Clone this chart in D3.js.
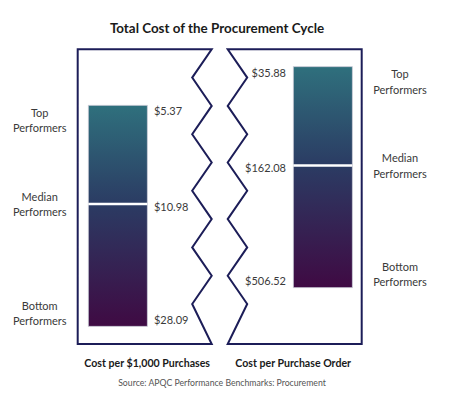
<!DOCTYPE html>
<html>
<head>
<meta charset="utf-8">
<script src="https://cdn.jsdelivr.net/npm/d3@7"></script>
<style>
  body { margin: 0; background: #fff; }
  text { font-family: Lato, "Open Sans", sans-serif; }
</style>
</head>
<body>
<div id="chart"></div>
<script>
// data
const levels = ["Top", "Median", "Bottom"];
const panels = ["Cost per $1,000 Purchases", "Cost per Purchase Order"];
const costPerThousand = [5.37, 10.98, 28.09];
const costPerOrder = [35.88, 162.08, 506.52];
const title = "Total Cost of the Procurement Cycle";
const source = "Source: APQC Performance Benchmarks: Procurement";

const width = 450, height = 401;
const boxTop = 49.3, boxBottom = 344;
const navy = "#1c1d58";

const svg = d3.select("#chart")
  .append("svg")
    .attr("width", width)
    .attr("height", height);

// gradient for the bars
const grad = svg.append("defs").append("linearGradient")
    .attr("id", "barGrad")
    .attr("x1", 0).attr("y1", 0).attr("x2", 0).attr("y2", 1);
grad.append("stop").attr("offset", "0%").attr("stop-color", "#2f707d");
grad.append("stop").attr("offset", "45%").attr("stop-color", "#2b3b63");
grad.append("stop").attr("offset", "100%").attr("stop-color", "#3f0a43");

// title
svg.append("text")
    .attr("x", 217)
    .attr("y", 33)
    .attr("text-anchor", "middle")
    .style("font-size", "13.4px")
    .style("font-weight", "bold")
    .style("fill", "#1a1a1a")
    .text(title);

// panels (two broken boxes)
const x = d3.scaleBand()
  .domain(panels)
  .range([77.7, 361.7])
  .paddingInner(0.1067);

const zigStep = 28.3, zigDepth = 19.5;

panels.forEach((p, pi) => {
  const values = pi === 0 ? costPerThousand : costPerOrder;
  const x0 = x(p), x1 = x(p) + x.bandwidth();
  const barW = 59;
  const barX = pi === 0 ? x0 + 10.6 : x1 - 9.4 - barW;
  const barTop = pi === 0 ? 105.3 : 66.7;
  const barH = 221;

  // level position scale (top, median, bottom boundaries)
  const y = d3.scaleLinear()
    .domain([0, 1, 2])
    .range([barTop, barTop + barH * 0.447, barTop + barH]);

  // box outline with zigzag break on the inner side
  const outer = pi === 0 ? x0 : x1;        // straight edge
  const brk = pi === 0 ? x1 : x0;          // zigzag edge
  const dir = pi === 0 ? -1 : 1;
  const zig = d3.range(0, 10).map(i => [i % 2 ? brk + dir * zigDepth : brk, boxTop + i * zigStep]);
  const pts = [[brk, boxTop], [outer, boxTop], [outer, boxBottom], [brk, boxBottom]]
    .concat(zig.slice().reverse());
  svg.append("path")
    .attr("d", d3.line()(pts) + "Z")
    .attr("fill", "none")
    .attr("stroke", navy)
    .attr("stroke-width", 2)
    .attr("stroke-linejoin", "miter");

  // bar
  svg.append("rect")
    .attr("x", barX)
    .attr("y", y(0))
    .attr("width", barW)
    .attr("height", y(2) - y(0))
    .attr("fill", "url(#barGrad)")
    .attr("stroke", "#c9cbd6")
    .attr("stroke-width", 0.8);

  // median divider
  svg.append("line")
    .attr("x1", barX)
    .attr("x2", barX + barW)
    .attr("y1", y(1))
    .attr("y2", y(1))
    .attr("stroke", "#fff")
    .attr("stroke-width", 2.5);

  // value labels
  const valOffset = [6, 3, -6.5];
  svg.selectAll(null)
    .data(values)
    .join("text")
      .attr("x", pi === 0 ? barX + barW + 6.6 : barX - 7.3)
      .attr("y", (d, i) => y(i) + valOffset[i])
      .attr("dy", "0.35em")
      .attr("text-anchor", pi === 0 ? "start" : "end")
      .style("font-size", "11px")
      .style("fill", "#3a3a3a")
      .text(d => "$" + d3.format(".2f")(d));

  // performer labels
  const labOffset = [14.5, -0.5, -14];
  const lab = svg.selectAll(null)
    .data(levels)
    .join("text")
      .attr("x", pi === 0 ? 39.7 : 400)
      .attr("y", (d, i) => y(i) + labOffset[i])
      .attr("text-anchor", "middle")
      .style("font-size", "11px")
      .style("fill", "#3a3a3a");
  lab.append("tspan").attr("dy", "-0.25em").text(d => d);
  lab.append("tspan").attr("x", pi === 0 ? 39.7 : 400).attr("dy", "1.4em").text("Performers");

  // panel label
  svg.append("text")
    .attr("x", x0 + x.bandwidth() / 2 + (pi === 0 ? 2.5 : -1.5))
    .attr("y", 367)
    .attr("text-anchor", "middle")
    .style("font-size", "10.6px")
    .style("font-weight", "bold")
    .style("fill", "#1a1a1a")
    .text(p);
});

// source
svg.append("text")
    .attr("x", 222)
    .attr("y", 386)
    .attr("text-anchor", "middle")
    .style("font-size", "8.7px")
    .style("fill", "#555")
    .text(source);
</script>
</body>
</html>
